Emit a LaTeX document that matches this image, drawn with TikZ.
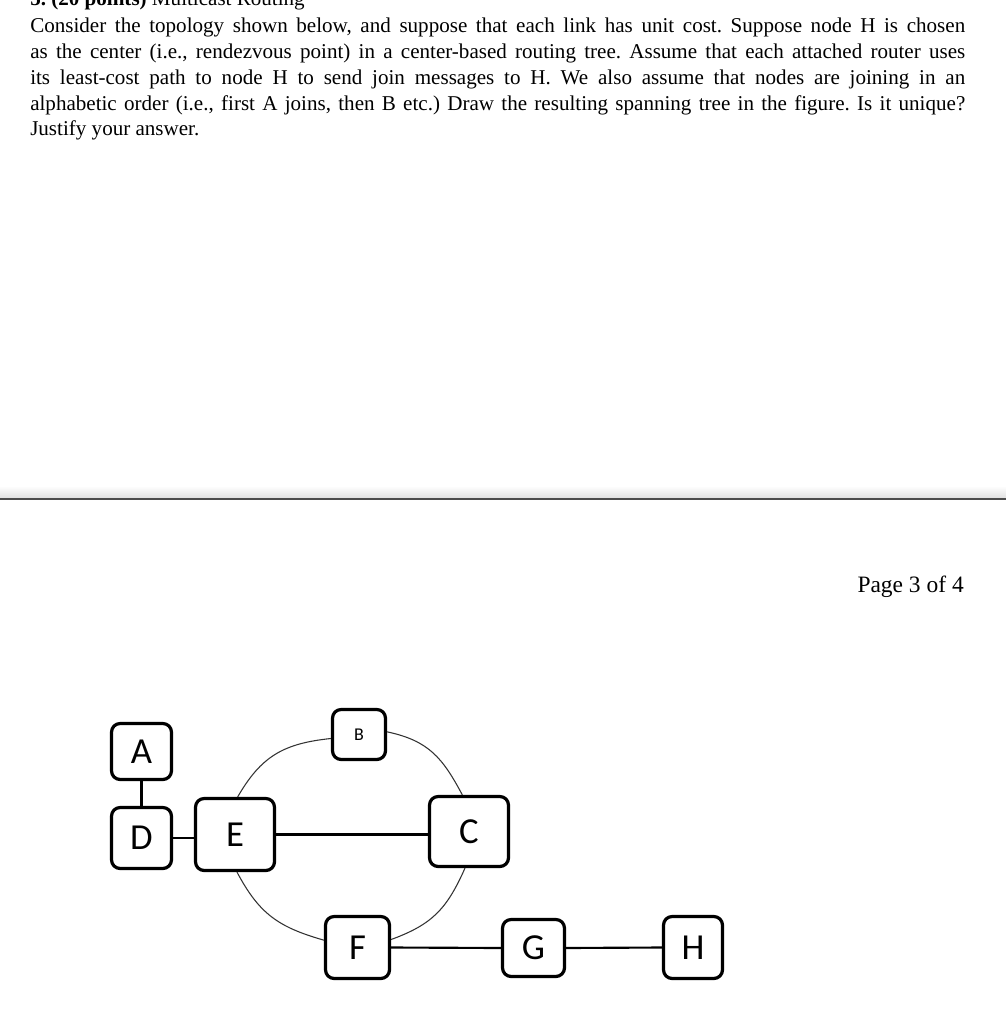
\documentclass[tikz,border=0pt]{standalone}
\usepackage{fontspec}
\setmainfont{Liberation Serif}
\newfontfamily\boxfont{Carlito}
\frenchspacing
\begin{document}
\begin{tikzpicture}[x=0.75pt,y=0.75pt,
  router/.style={draw=black, line width=2.4pt, rounded corners=6.5pt, fill=white, inner sep=0pt, font=\boxfont\fontsize{27.5}{30}\selectfont},
  link/.style={line width=1.6pt, black},
  ring/.style={line width=0.8pt, black!80},
  txt/.style={anchor=base west, inner sep=0pt, font=\fontsize{15.8}{19.5}\selectfont}]
\useasboundingbox (0,0) rectangle (1006,-1028);
\clip (0,0) rectangle (1006,-1028);
\fill[white] (0,0) rectangle (1006,-1028);

% question text
\node[txt] (head) at (30,-5.5) {\textbf{5. (20 points)} Multicast Routing};
\node[txt] (l1) at (30,-32) {\makebox[701.25pt][s]{Consider the topology shown below, and suppose that each link has unit cost. Suppose node H is chosen}};
\node[txt] (l2) at (30,-58) {\makebox[701.25pt][s]{as the center (i.e., rendezvous point) in a center-based routing tree. Assume that each attached router uses}};
\node[txt] (l3) at (30,-84) {\makebox[701.25pt][s]{its least-cost path to node H to send join messages to H. We also assume that nodes are joining in an}};
\node[txt] (l4) at (30,-110) {\makebox[701.25pt][s]{alphabetic order (i.e., first A joins, then B etc.) Draw the resulting spanning tree in the figure. Is it unique?}};
\node[txt] (l5) at (30,-135.5) {Justify your answer.};

% page separator
\shade[top color=white, bottom color=black!12] (0,-486) rectangle (1006,-498);
\draw[line width=1.5pt, black!70] (0,-499) -- (1006,-499);
\node[anchor=base east, inner sep=0pt, font=\fontsize{17.6}{21}\selectfont] (page) at (964,-592) {Page 3 of 4};

% routers
\node[router, minimum width=45pt,    minimum height=42pt]    (A) at (141.5,-751.5) {A};
\node[router, minimum width=45pt,    minimum height=45.75pt] (D) at (141.5,-838)   {D};
\node[router, minimum width=59.25pt, minimum height=54pt]    (E) at (235,-834.5)   {E};
\node[router, minimum width=39.75pt, minimum height=37.5pt, font=\boxfont\fontsize{13.5}{15}\selectfont] (B) at (359,-734.5) {B};
\node[router, minimum width=59.25pt, minimum height=52.5pt]  (C) at (469,-831.5)   {C};
\node[router, minimum width=48pt,    minimum height=46.5pt]  (F) at (357.5,-947.5) {F};
\node[router, minimum width=46.5pt,  minimum height=42.75pt] (G) at (533.5,-948)   {G};
\node[router, minimum width=44.25pt, minimum height=46.5pt]  (H) at (693,-947.5)   {H};

% straight links
\draw[link] (A.south) -- (D.north);
\draw[link] (D.east) -- (D.east -| E.west);
\draw[link] (E.east) -- (E.east -| C.west);
\draw[link] (F.east) -- (G.west);
\draw[link] (G.east) -- (H.west);

% ring arcs
\draw[ring] ([xshift=2pt]E.north) to[out=60, in=186, looseness=1.1] ([yshift=-3pt]B.west);
\draw[ring] ([yshift=2pt]B.east) to[out=-12, in=118, looseness=1.1] ([xshift=-5pt]C.north);
\draw[ring] ([xshift=1.5pt]E.south) to[out=-62, in=164, looseness=1.1] ([yshift=5.5pt]F.west);
\draw[ring] ([yshift=6pt]F.east) to[out=20, in=-114, looseness=1.1] ([xshift=-3pt]C.south);
\end{tikzpicture}
\end{document}
